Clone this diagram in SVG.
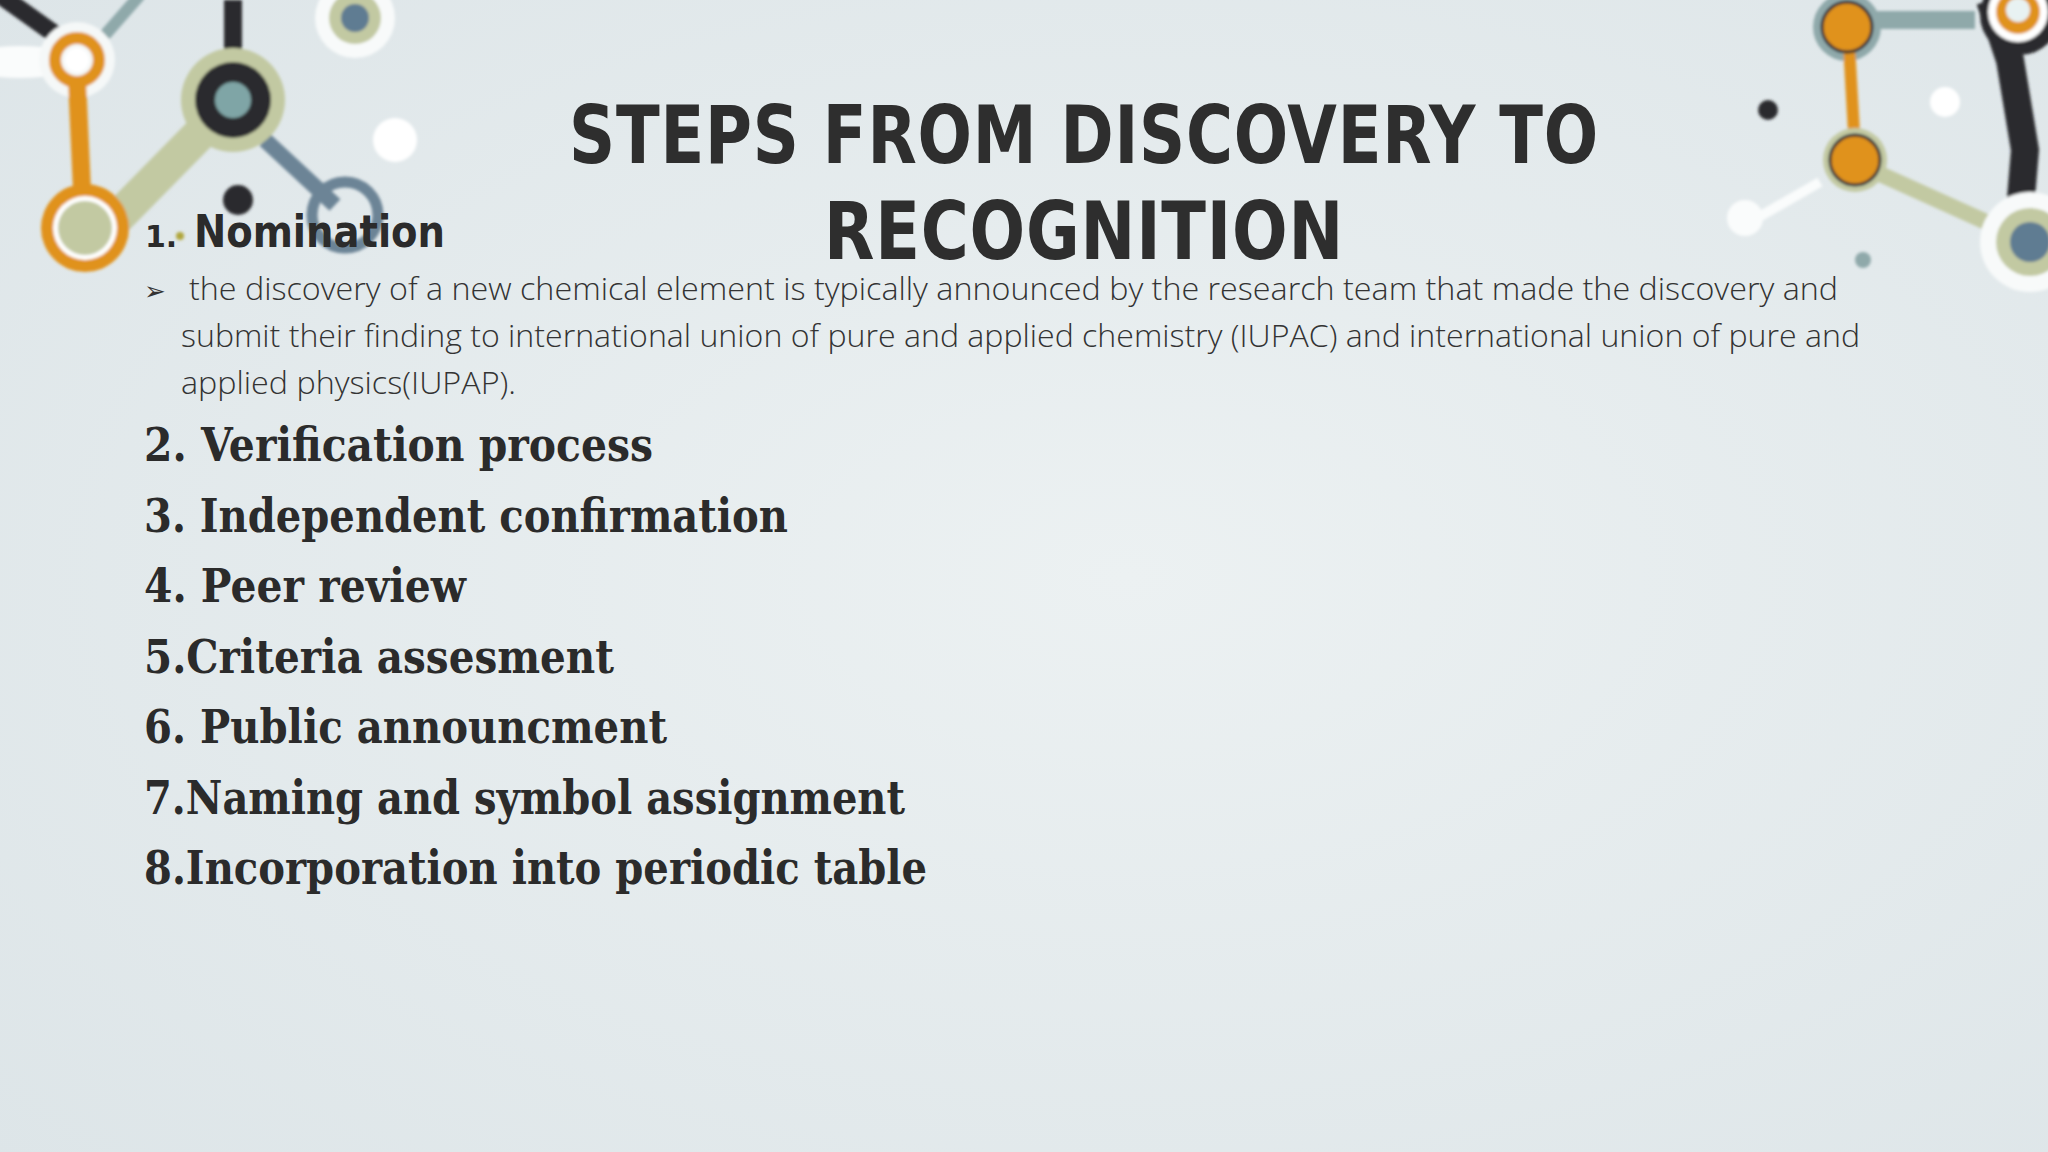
<svg xmlns="http://www.w3.org/2000/svg" width="2048" height="1152" viewBox="0 0 2048 1152">
<defs>
<radialGradient id="bg" cx="0.55" cy="0.5" r="0.75">
<stop offset="0" stop-color="#ecf1f2"/>
<stop offset="1" stop-color="#dde5e8"/>
</radialGradient>
<filter id="blur"><feGaussianBlur stdDeviation="1.5"/></filter>
</defs>
<style>
.item{font-family:"DejaVu Serif",serif;font-weight:bold;font-size:46px;fill:#2b2b2b}
.body{font-family:"Open Sans",sans-serif;font-weight:300;font-size:31px;fill:#333}
.title{font-family:"DejaVu Sans",sans-serif;font-weight:900;font-size:80px;fill:#2e2e2e;letter-spacing:1px}
</style>
<rect width="2048" height="1152" fill="url(#bg)"/>
<g id="deco-left" filter="url(#blur)">
<path d="M0 -5 L70 45" stroke="#2a2a2e" stroke-width="18" fill="none"/>
<path d="M105 35 L140 -5" stroke="#8fa9aa" stroke-width="12"/>
<ellipse cx="20" cy="62" rx="60" ry="16" fill="#fafcfc"/>
<circle cx="77" cy="60" r="38" fill="#f5f8f8"/>
<path d="M110 225 L233 100" stroke="#c2c9a2" stroke-width="34"/>
<path d="M265 140 L335 205" stroke="#6c8496" stroke-width="16"/>
<circle cx="345" cy="215" r="33" fill="none" stroke="#6c8496" stroke-width="11"/>
<path d="M233 0 L233 70" stroke="#2a2a2e" stroke-width="18"/>
<circle cx="233" cy="100" r="52" fill="#c2c9a2"/>
<circle cx="233" cy="100" r="38" fill="#2a2a2e"/>
<circle cx="233" cy="100" r="18" fill="#7fa5a6"/>
<path d="M77 80 L82 190" stroke="#e0921a" stroke-width="18"/>
<circle cx="77" cy="60" r="22" fill="none" stroke="#e0921a" stroke-width="12"/>
<circle cx="77" cy="60" r="12" fill="#fff"/>
<circle cx="85" cy="228" r="44" fill="#e0921a"/>
<circle cx="85" cy="228" r="32" fill="#fff"/>
<circle cx="85" cy="228" r="27" fill="#c2c9a2"/>
<circle cx="238" cy="200" r="15" fill="#2a2a2e"/>
<circle cx="395" cy="140" r="22" fill="#fff"/>
<circle cx="180" cy="236" r="4" fill="#b0a63a"/>
<circle cx="355" cy="18" r="40" fill="#f8fafa"/>
<circle cx="355" cy="18" r="26" fill="#c2c9a2"/>
<circle cx="355" cy="18" r="14" fill="#5f7b92"/>
</g>
<g id="deco-right" filter="url(#blur)">
<path d="M1870 20 L1975 20" stroke="#8fa9aa" stroke-width="18"/>
<path d="M1745 225 L1820 182" stroke="#fafcfc" stroke-width="10"/>
<circle cx="1745" cy="218" r="18" fill="#fafcfc"/>
<path d="M1860 165 L2015 235" stroke="#c2c9a2" stroke-width="16"/>
<path d="M1990 0 L2010 60 L2025 150 L2020 210" stroke="#2a2a2e" stroke-width="28" fill="none"/>
<circle cx="2020" cy="15" r="40" fill="#2a2a2e"/>
<circle cx="2018" cy="12" r="30" fill="#fff"/>
<circle cx="2018" cy="12" r="22" fill="#e0921a"/>
<circle cx="2018" cy="10" r="12" fill="#e8f2f2"/>
<circle cx="1847" cy="27" r="34" fill="#8fa9aa"/>
<path d="M1849 45 L1855 150" stroke="#e0921a" stroke-width="12"/>
<circle cx="1847" cy="27" r="25" fill="#e0921a" stroke="#2a2a2e" stroke-width="3"/>
<circle cx="1855" cy="160" r="32" fill="#c2c9a2"/>
<circle cx="1855" cy="160" r="25" fill="#e0921a" stroke="#2a2a2e" stroke-width="3"/>
<circle cx="2030" cy="242" r="50" fill="#f8fafa"/>
<circle cx="2030" cy="242" r="34" fill="#c2c9a2"/>
<circle cx="2030" cy="242" r="20" fill="#5f7b92"/>
<circle cx="1768" cy="110" r="10" fill="#2a2a2e"/>
<circle cx="1945" cy="102" r="15" fill="#fff"/>
<circle cx="1863" cy="260" r="8" fill="#8fa9aa"/>
</g>
<g id="title">
<text class="title" x="1084" y="163" text-anchor="middle" textLength="1030" lengthAdjust="spacingAndGlyphs">STEPS FROM DISCOVERY TO</text>
<text class="title" x="1084" y="259" text-anchor="middle" textLength="520" lengthAdjust="spacingAndGlyphs">RECOGNITION</text>
</g>
<g id="step1">
<text x="145" y="247" font-family="DejaVu Sans,sans-serif" font-weight="bold" font-size="30" fill="#2b2b2b">1.</text>
<text x="194" y="247" font-family="DejaVu Sans,sans-serif" font-weight="900" font-size="44" fill="#2b2b2b" textLength="251" lengthAdjust="spacingAndGlyphs">Nomination</text>
<text x="144" y="300" font-family="DejaVu Sans,sans-serif" font-size="26" fill="#333">➢</text>
<text class="body" x="189" y="300" textLength="1649" lengthAdjust="spacingAndGlyphs">the discovery of a new chemical element is typically announced by the research team that made the discovery and</text>
<text class="body" x="181" y="347" textLength="1679" lengthAdjust="spacingAndGlyphs">submit their finding  to international union of pure and applied chemistry (IUPAC) and international union of pure and</text>
<text class="body" x="181" y="394" textLength="335" lengthAdjust="spacingAndGlyphs">applied physics(IUPAP).</text>
</g>
<g id="steps">
<text class="item" x="144" y="461" textLength="509" lengthAdjust="spacingAndGlyphs">2. Verification process</text>
<text class="item" x="144" y="532" textLength="644" lengthAdjust="spacingAndGlyphs">3. Independent confirmation</text>
<text class="item" x="144" y="602" textLength="322" lengthAdjust="spacingAndGlyphs">4. Peer review</text>
<text class="item" x="144" y="673" textLength="470" lengthAdjust="spacingAndGlyphs">5.Criteria assesment</text>
<text class="item" x="144" y="743" textLength="523" lengthAdjust="spacingAndGlyphs">6. Public announcment</text>
<text class="item" x="144" y="814" textLength="761" lengthAdjust="spacingAndGlyphs">7.Naming and symbol assignment</text>
<text class="item" x="144" y="884" textLength="783" lengthAdjust="spacingAndGlyphs">8.Incorporation into periodic table</text>
</g>
</svg>
